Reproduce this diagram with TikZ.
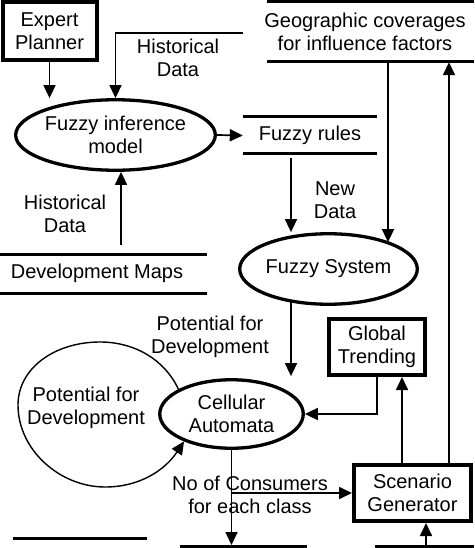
\documentclass[tikz,border=0pt]{standalone}
\usepackage{fontspec}
\setmainfont{Liberation Sans}
\usetikzlibrary{arrows.meta,shapes.geometric,calc}
\begin{document}
\begin{tikzpicture}[x=1pt,y=-1pt,
  every node/.style={font=\fontsize{20}{23}\selectfont, align=center, inner sep=0pt},
  box/.style={draw, line width=4pt, rectangle},
  proc/.style={draw, ellipse, line width=3.3pt},
  store/.style={rectangle},
  storeline/.style={line width=3pt},
  tip/.style={-{Triangle[length=13pt,width=12pt]}},
  arr/.style={line width=1.7pt, tip},
  loopline/.style={line width=1.4pt, tip}
]
\useasboundingbox (0,0) rectangle (474,548);

% main nodes
\node[box, minimum width=94pt, minimum height=58pt] (planner) at (49.5,31.5) {Expert\\Planner};
\node[proc, minimum width=181.5pt, minimum height=70.5pt] (fim) at (115.5,135) {Fuzzy inference\\model};
\node[store, minimum height=60pt] (geo) at (365,32) {Geographic coverages\\for influence factors};
\node[store, minimum width=134pt, minimum height=37pt] (rules) at (310,135.5) {Fuzzy rules};
\node[store, minimum height=39pt] (devmaps) at (97,273.5) {Development Maps};
\node[proc, minimum width=145.5pt, minimum height=70.5pt] (fs) at (328.5,269) {Fuzzy System};
\node[box, minimum width=96pt, minimum height=56pt] (global) at (377,347) {Global\\Trending};
\node[proc, minimum width=143.5pt, minimum height=68.5pt] (ca) at (231.5,414) {Cellular\\Automata};
\node[box, minimum width=117pt, minimum height=56pt] (scen) at (412.5,493) {Scenario\\Generator};

% labels
\node (lhd1) at (178,58) {Historical\\Data};
\node (lhd2) at (65,213.5) {Historical\\Data};
\node (lnd) at (335,200.5) {New\\Data};
\node (lpd1) at (210,337) {Potential for\\Development};
\node (lpd2) at (86,407.5) {Potential for\\Development};
\node (lnc) at (250,495) {No of Consumers\\for each class};

% data store lines
\draw[storeline] (267,2) -- (474,2);
\draw[storeline] (267,62) -- (474,62);
\draw[storeline] (243,117) -- (377,117);
\draw[storeline] (243,154) -- (377,154);
\draw[storeline] (0,254) -- (207,254);
\draw[storeline] (0,293) -- (207,293);
\draw[storeline] (13,538) -- (147,538);
\draw[storeline] (180,546.5) -- (307,546.5);
\draw[storeline] (375,546.5) -- (474,546.5);

% free connector ends
\coordinate (hdstart) at (243,33);
\coordinate (dm) at (121,245);
\coordinate (nd) at (291,158);
\coordinate (botmid) at (231.5,545);
\coordinate (br) at (231.5,493);
\coordinate (botr) at (426,548);

% connectors
\draw[arr] (planner.south) -- (planner.south |- fim.north);
\draw[arr, rounded corners=0pt] (hdstart) -| (fim.north);
\draw[arr] (fim.east) -- (rules.west);
\draw[arr] (dm) -- (dm |- fim.south);
\draw[arr] (nd) -- (nd |- fs.north);
\draw[arr] ($(geo.south)+(23,0)$) -- ($(fs.north)+(59.5,10)$);
\draw[arr] ($(fs.south)+(-37.5,-5)$) -- ($(ca.north)+(59.5,-2)$);
\draw[arr] (global.south) |- (ca.east);
\draw[arr] ($(scen.north)+(-10.5,0)$) -- ($(global.south)+(25,0)$);
\draw[arr] ($(scen.north)+(36.5,0)$) -- ($(geo.south)+(84,0)$);
\draw[arr] (ca.south) -- (botmid);
\draw[arr] (br) -- (scen.west);
\draw[arr] (botr) -- (botr |- scen.south);

% self loop
\draw[loopline] (ca.155) .. controls (165,360) and (135,342) .. (100,342)
  .. controls (55,342) and (18,368) .. (18,405)
  .. controls (18,450) and (60,487) .. (105,487)
  .. controls (140,487) and (165,470) .. (ca.210);
\end{tikzpicture}
\end{document}
